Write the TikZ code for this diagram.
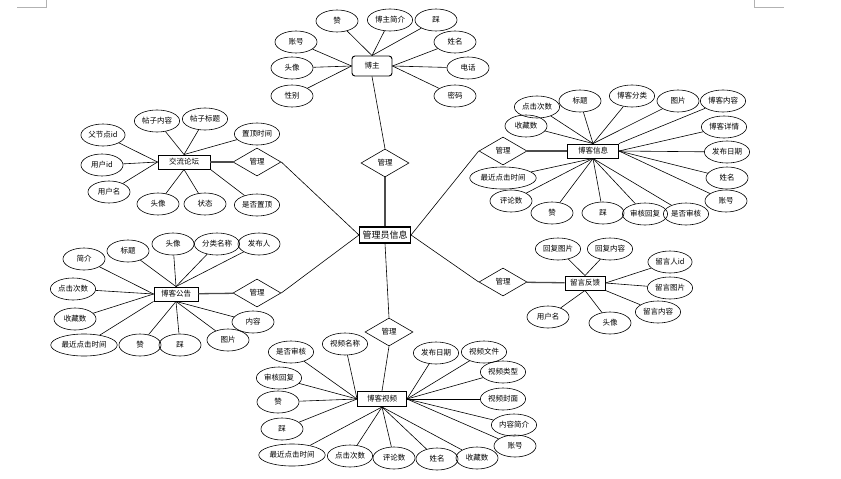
\documentclass[tikz,border=0pt]{standalone}
\usepackage{fontspec}
\setmainfont{Noto Sans CJK SC}
\usetikzlibrary{shapes.geometric}

\tikzset{
  attr/.style={ellipse, draw, line width=.6pt, inner sep=1pt,
    minimum width=42pt, minimum height=22pt, font=\fontsize{7.5}{8}\selectfont},
  ent/.style={rectangle, draw, line width=.9pt, minimum height=14pt,
    inner xsep=4pt, inner ysep=2pt, font=\fontsize{7.5}{8}\selectfont},
  rel/.style={diamond, draw, line width=.6pt, minimum width=48pt,
    minimum height=28pt, inner sep=0pt, font=\fontsize{7.5}{8}\selectfont},
  link/.style={line width=.6pt},
  heavy/.style={line width=1.3pt, black!70},
}

\begin{document}
\begin{tikzpicture}[x=1pt, y=-1pt]
\useasboundingbox (0,0) rectangle (841,479);

% page corner marks
\draw[gray!60, line width=.6pt] (17,7) -- (46,7) -- (46,0);
\draw[gray!60, line width=.6pt] (754,0) -- (754,7) -- (784,7);

% entities
\node[ent, line width=1.1pt, minimum height=16pt, inner xsep=3pt,
  font=\fontsize{9}{10}\selectfont] (admin) at (385,235) {管理员信息};
\node[ent, rounded corners=3pt, minimum width=40pt, minimum height=20pt] (blogger) at (372,66) {博主};
\node[ent, minimum width=52pt] (forum) at (184,162) {交流论坛};
\node[ent, minimum width=51pt] (info) at (593,151) {博客信息};
\node[ent, minimum width=44pt] (notice) at (176,294) {博客公告};
\node[ent, minimum width=40pt] (msg) at (585,283) {留言反馈};
\node[ent, minimum width=49pt, minimum height=15pt] (video) at (382,399) {博客视频};

% relations
\node[rel] (rblogger) at (385,163) {管理};
\node[rel] (rforum) at (257,162) {管理};
\node[rel] (rinfo) at (503,151) {管理};
\node[rel] (rnotice) at (257,293) {管理};
\node[rel] (rmsg) at (503,282) {管理};
\node[rel] (rvideo) at (389,332) {管理};

\draw[heavy] (admin) -- (rblogger);
\draw[link] (blogger.south) -- (rblogger.north);
\draw[link] (admin.west) -- (rforum.east);
\draw[heavy] (rforum) -- (forum);
\draw[link] (admin.west) -- (rnotice.east);
\draw[heavy] (rnotice) -- (notice);
\draw[link] (admin.east) -- (rinfo.west);
\draw[heavy] (rinfo) -- (info);
\draw[link] (admin.east) -- (rmsg.west);
\draw[heavy] (rmsg) -- (msg);
\draw[link] (admin.south) -- (rvideo.north);
\draw[link] (rvideo.south) -- (video.north);

% attributes: name/x/y/text/anchor
\foreach \n/\x/\y/\t/\a in {bz1/337/21/赞/north, bz2/390/20/博主简介/north,
    bz3/436/20/踩/north, bz4/296/42/账号/west, bz5/455/42/姓名/east,
    bz6/292/68/头像/west, bz7/468/68/电话/east, bz8/292/96/性别/west,
    bz9/455/96/密码/east}
  {\node[attr] (\n) at (\x,\y) {\t}; \draw[link] (\n) -- (blogger.\a);}

\foreach \n/\x/\y/\t/\a in {lt1/157/121/帖子内容/north, lt2/205/119/帖子标题/north,
    lt3/103/135/父节点id/west, lt4/257/134/置顶时间/north, lt5/102/165/用户id/west,
    lt6/109/192/用户名/west, lt7/158/204/头像/south, lt8/205/204/状态/south,
    lt9/257/205/是否置顶/south east}
  {\node[attr] (\n) at (\x,\y) {\t}; \draw[link] (\n) -- (forum.\a);}

\foreach \n/\x/\y/\t/\a in {bk1/537/107/点击次数/north, bk2/580/101/标题/north,
    bk3/632/96/博客分类/north, bk4/678/101/图片/north, bk5/723/101/博客内容/north east,
    bk6/526/126/收藏数/north, bk7/724/127/博客详情/east, bk8/727/152/发布日期/east,
    bk9/503/178/最近点击时间/south, bk10/727/178/姓名/east, bk11/511/201/评论数/south,
    bk12/726/201/账号/east, bk13/552/213/赞/south, bk14/603/213/踩/south,
    bk15/645/214/审核回复/south, bk16/686/214/是否审核/south}
  {\node[attr] (\n) at (\x,\y) {\t}; \draw[link] (\n) -- (info.\a);}

\foreach \n/\x/\y/\t/\a in {gg1/84/259/简介/west, gg2/128/251/标题/north,
    gg3/173/244/头像/north, gg4/217/244/分类名称/north, gg5/259/244/发布人/north,
    gg6/73/289/点击次数/west, gg7/75/319/收藏数/west, gg8/253/322/内容/south,
    gg9/84/345/最近点击时间/south west, gg10/140/345/赞/south, gg11/180/345/踩/south,
    gg12/228/340/图片/south}
  {\node[attr] (\n) at (\x,\y) {\t}; \draw[link] (\n) -- (notice.\a);}

\foreach \n/\x/\y/\t/\a in {ly1/558/249/回复图片/north, ly2/610/249/回复内容/north,
    ly3/670/262/留言人id/east, ly4/670/288/留言图片/east, ly5/658/312/留言内容/south east,
    ly6/548/317/用户名/south, ly7/610/323/头像/south}
  {\node[attr] (\n) at (\x,\y) {\t}; \draw[link] (\n) -- (msg.\a);}

\foreach \n/\x/\y/\t/\a in {sp1/291/352/是否审核/west, sp2/345/344/视频名称/west,
    sp3/436/353/发布日期/east, sp4/484/352/视频文件/east, sp5/279/378/审核回复/west,
    sp6/503/372/视频类型/east, sp7/278/402/赞/west, sp8/503/399/视频封面/east,
    sp9/282/429/踩/west, sp10/514/425/内容简介/east, sp11/515/446/账号/east,
    sp12/292/455/最近点击时间/south, sp13/350/456/点击次数/south, sp14/394/458/评论数/south,
    sp15/437/459/姓名/south, sp16/477/458/收藏数/south}
  {\node[attr] (\n) at (\x,\y) {\t}; \draw[link] (\n) -- (video.\a);}

\end{tikzpicture}
\end{document}
